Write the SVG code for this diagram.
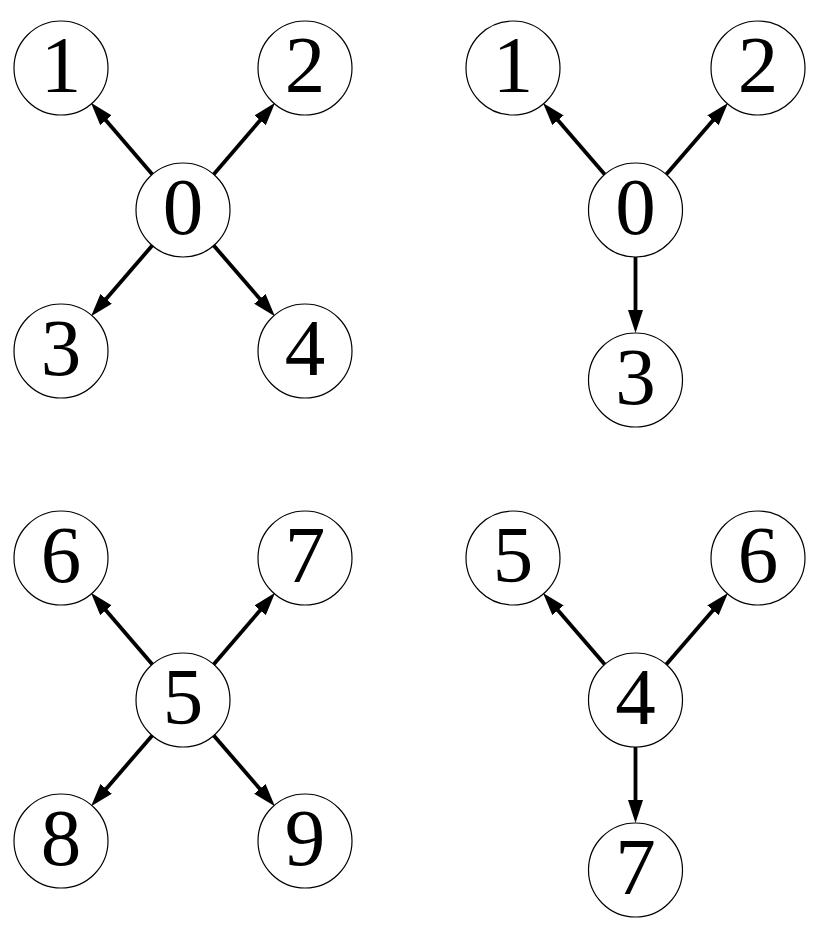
<svg xmlns="http://www.w3.org/2000/svg" width="819" height="952" viewBox="0 0 819 952">
<style>
.n circle{fill:#fff;stroke:#000;stroke-width:1.2}
.n text{font-family:"Liberation Serif","Times New Roman",serif;font-size:81px;text-anchor:middle;fill:#000}
.e line{stroke:#000;stroke-width:3.8;marker-end:url(#ah)}
</style>
<defs>
<marker id="ah" markerUnits="userSpaceOnUse" markerWidth="23" markerHeight="15" refX="12" refY="7.5" orient="auto">
<path d="M0,0 L23,7.5 L0,15 z" fill="#000"/>
</marker>
</defs>
<rect width="819" height="952" fill="#fff"/>
<g id="connectors" class="e">
<line x1="152.4" y1="174.4" x2="98.1" y2="111.2"/>
<line x1="213.6" y1="174.4" x2="267.9" y2="111.2"/>
<line x1="152.25" y1="245.5" x2="98.3" y2="307.9"/>
<line x1="213.75" y1="245.5" x2="267.7" y2="307.9"/>
<line x1="604.8" y1="174.4" x2="550.2" y2="111.2"/>
<line x1="666.2" y1="174.4" x2="720.8" y2="111.2"/>
<line x1="635.5" y1="257" x2="635.5" y2="322"/>
<line x1="152.4" y1="664.4" x2="98.1" y2="601.2"/>
<line x1="213.6" y1="664.4" x2="267.9" y2="601.2"/>
<line x1="152.25" y1="735.5" x2="98.3" y2="797.9"/>
<line x1="213.75" y1="735.5" x2="267.7" y2="797.9"/>
<line x1="604.8" y1="664.4" x2="550.2" y2="601.2"/>
<line x1="666.2" y1="664.4" x2="720.8" y2="601.2"/>
<line x1="635.5" y1="747" x2="635.5" y2="812"/>
</g>
<g id="a0" class="n"><circle cx="183" cy="210" r="47"/><text x="183" y="234">0</text></g>
<g id="a1" class="n"><circle cx="61" cy="68" r="47"/><text x="61" y="92">1</text></g>
<g id="a2" class="n"><circle cx="305" cy="68" r="47"/><text x="305" y="92">2</text></g>
<g id="a3" class="n"><circle cx="61" cy="351" r="47"/><text x="61" y="375">3</text></g>
<g id="a4" class="n"><circle cx="305" cy="351" r="47"/><text x="305" y="375">4</text></g>
<g id="b0" class="n"><circle cx="635.5" cy="210" r="47"/><text x="635.5" y="234">0</text></g>
<g id="b1" class="n"><circle cx="513" cy="68" r="47"/><text x="513" y="92">1</text></g>
<g id="b2" class="n"><circle cx="758" cy="68" r="47"/><text x="758" y="92">2</text></g>
<g id="b3" class="n"><circle cx="635.5" cy="380" r="47"/><text x="635.5" y="404">3</text></g>
<g id="c5" class="n"><circle cx="183" cy="700" r="47"/><text x="183" y="724">5</text></g>
<g id="c6" class="n"><circle cx="61" cy="558" r="47"/><text x="61" y="582">6</text></g>
<g id="c7" class="n"><circle cx="305" cy="558" r="47"/><text x="305" y="582">7</text></g>
<g id="c8" class="n"><circle cx="61" cy="841" r="47"/><text x="61" y="865">8</text></g>
<g id="c9" class="n"><circle cx="305" cy="841" r="47"/><text x="305" y="865">9</text></g>
<g id="d4" class="n"><circle cx="635.5" cy="700" r="47"/><text x="635.5" y="724">4</text></g>
<g id="d5" class="n"><circle cx="513" cy="558" r="47"/><text x="513" y="582">5</text></g>
<g id="d6" class="n"><circle cx="758" cy="558" r="47"/><text x="758" y="582">6</text></g>
<g id="d7" class="n"><circle cx="635.5" cy="870" r="47"/><text x="635.5" y="894">7</text></g>
</svg>
